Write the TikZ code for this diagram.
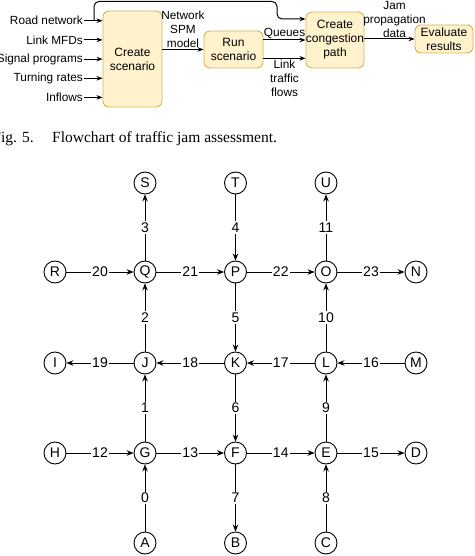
\documentclass[tikz,border=0pt]{standalone}
\usepackage{fontspec}
\setmainfont{Liberation Sans}
\newfontfamily\captionserif{Liberation Serif}
\usepackage{tikz}
\usetikzlibrary{arrows.meta, positioning}

\definecolor{boxfill}{HTML}{FFF2CC}
\definecolor{boxedge}{HTML}{D6B656}

\begin{document}
\begin{tikzpicture}[
    x=1pt, y=-1pt,
    process/.style={rectangle, rounded corners=6pt, draw=boxedge, fill=boxfill, line width=0.9pt, align=center, inner sep=0pt, font=\fontsize{12}{14}\selectfont},
    flow/.style={-{Stealth[length=6pt, width=4.5pt]}, line width=1pt},
    flowtext/.style={font=\fontsize{11.8}{14}\selectfont, align=center, inner sep=1pt},
    junction/.style={circle, draw=black, line width=0.9pt, minimum size=22pt, inner sep=0pt, font=\fontsize{14}{16}\selectfont},
    link/.style={-{Stealth[length=7pt, width=5.5pt]}, line width=1pt},
    num/.style={font=\fontsize{14}{16}\selectfont, fill=white, inner sep=1.2pt},
    capt/.style={font=\captionserif\fontsize{15.5}{18}\selectfont, inner sep=0pt}
]
\useasboundingbox (0,0) rectangle (474,556);

% Flowchart boxes
\node[process, minimum width=59pt, minimum height=96pt] (create) at (132.5,59) {Create\\scenario};
\node[process, minimum width=59pt, minimum height=37pt] (run) at (233.5,49.5) {Run\\scenario};
\node[process, minimum width=58pt, minimum height=56pt] (cong) at (335,40) {Create\\congestion\\path};
\node[process, minimum width=58pt, minimum height=28pt] (eval) at (444,39) {Evaluate\\results};

% Inputs
\node[flowtext, anchor=east] (road) at (84,20.7) {Road network};
\node[flowtext, anchor=east] (mfd) at (84,39.9) {Link MFDs};
\node[flowtext, anchor=east] (signal) at (84,59.1) {Signal programs};
\node[flowtext, anchor=east] (turning) at (84,78.3) {Turning rates};
\node[flowtext, anchor=east] (inflow) at (84,97.4) {Inflows};
\draw[flow] (road.east) -- (road.east -| create.west);
\draw[flow] (mfd.east) -- (mfd.east -| create.west);
\draw[flow] (signal.east) -- (signal.east -| create.west);
\draw[flow] (turning.east) -- (turning.east -| create.west);
\draw[flow] (inflow.east) -- (inflow.east -| create.west);

% Road network also feeds the congestion path
\coordinate (split) at (94,20.7);
\draw[flow, rounded corners=5pt] (split) |- (277,1.5) |- (cong.west |- 0,19);

% Flowchart connectors
\draw[flow] (create.east |- run.west) -- node[flowtext, above] {Network\\SPM\\model} (run.west);
\draw[flow] (run.east |- cong.west) -- node[flowtext, above] {Queues} (cong.west);
\draw[flow] (run.east |- 0,58.3) -- node[flowtext, below] {Link\\traffic\\flows} (cong.west |- 0,58.3);
\draw[flow] (cong.east |- eval.west) -- node[flowtext, above, xshift=5pt] {Jam\\propagation\\data} (eval.west);

% Caption
\node[capt, anchor=east] (figno) at (34,139) {Fig. 5.};
\node[capt, anchor=west] (caption) at (52,139) {Flowchart of traffic jam assessment.};

% Junctions
\node[junction] (S) at (145,183) {S};
\node[junction] (T) at (235.5,183) {T};
\node[junction] (U) at (326,183) {U};
\node[junction] (R) at (55,272) {R};
\node[junction] (Q) at (145,272) {Q};
\node[junction] (P) at (235.5,272) {P};
\node[junction] (O) at (326,272) {O};
\node[junction] (N) at (416,272) {N};
\node[junction] (I) at (55,363) {I};
\node[junction] (J) at (145,363) {J};
\node[junction] (K) at (235.5,363) {K};
\node[junction] (L) at (326,363) {L};
\node[junction] (M) at (416,363) {M};
\node[junction] (H) at (55,453) {H};
\node[junction] (G) at (145,453) {G};
\node[junction] (F) at (235.5,453) {F};
\node[junction] (E) at (326,453) {E};
\node[junction] (D) at (416,453) {D};
\node[junction] (A) at (145,543) {A};
\node[junction] (B) at (235.5,543) {B};
\node[junction] (C) at (326,543) {C};

% Vertical links
\draw[link] (Q) -- node[num] {3} (S);
\draw[link] (T) -- node[num] {4} (P);
\draw[link] (O) -- node[num] {11} (U);
\draw[link] (J) -- node[num] {2} (Q);
\draw[link] (P) -- node[num] {5} (K);
\draw[link] (L) -- node[num] {10} (O);
\draw[link] (G) -- node[num] {1} (J);
\draw[link] (K) -- node[num] {6} (F);
\draw[link] (E) -- node[num] {9} (L);
\draw[link] (A) -- node[num] {0} (G);
\draw[link] (F) -- node[num] {7} (B);
\draw[link] (C) -- node[num] {8} (E);

% Horizontal links
\draw[link] (R) -- node[num] {20} (Q);
\draw[link] (Q) -- node[num] {21} (P);
\draw[link] (P) -- node[num] {22} (O);
\draw[link] (O) -- node[num] {23} (N);
\draw[link] (J) -- node[num] {19} (I);
\draw[link] (K) -- node[num] {18} (J);
\draw[link] (L) -- node[num] {17} (K);
\draw[link] (M) -- node[num] {16} (L);
\draw[link] (H) -- node[num] {12} (G);
\draw[link] (G) -- node[num] {13} (F);
\draw[link] (F) -- node[num] {14} (E);
\draw[link] (E) -- node[num] {15} (D);

\end{tikzpicture}
\end{document}
